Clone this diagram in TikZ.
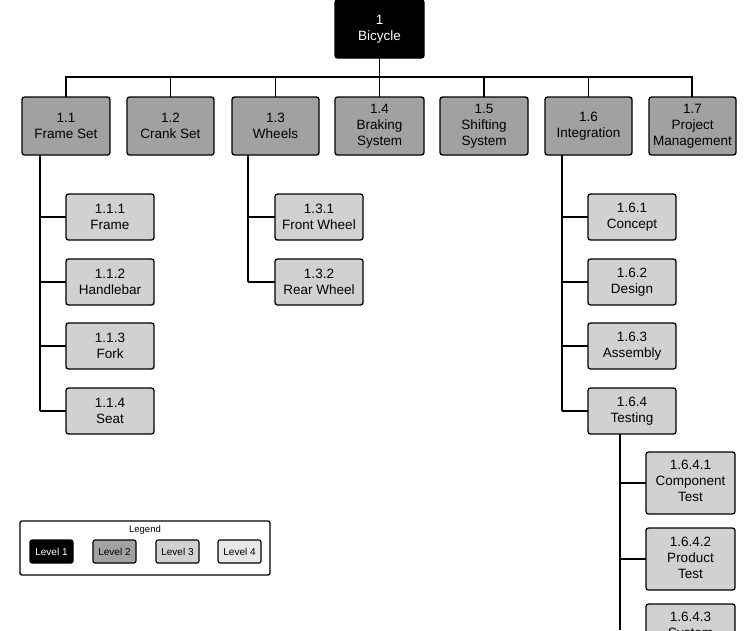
\documentclass[tikz,border=0pt]{standalone}
\usepackage{fontspec}
\setmainfont{Liberation Sans}
\begin{document}
\begin{tikzpicture}[x=1pt,y=-1pt,
  bx/.style={draw=black,line width=1.3pt,rounded corners=2.5pt},
  lbl/.style={align=center,font=\fontsize{13.5}{16}\selectfont,inner sep=0pt},
  ln/.style={line width=1.4pt}]
\useasboundingbox (0,0) rectangle (749,630);
\definecolor{lvtwo}{gray}{0.63}
\definecolor{lvthree}{gray}{0.82}
\definecolor{lvfour}{gray}{0.91}
% connectors
\draw[ln] (379.5,58) -- (379.5,77);
\draw[ln] (66,97) -- (66,77) -- (692,77) -- (692,97);
\foreach \x in {170.5,275.5,379.5,484,588.5} \draw[ln] (\x,77) -- (\x,97);
\draw[ln] (40,155) -- (40,411);
\foreach \y in {217,282,346,411} \draw[ln] (40,\y) -- (66,\y);
\draw[ln] (248,155) -- (248,282);
\foreach \y in {217,282} \draw[ln] (248,\y) -- (275,\y);
\draw[ln] (562,155) -- (562,411);
\foreach \y in {217,282,346,411} \draw[ln] (562,\y) -- (588,\y);
\draw[ln] (620,434) -- (620,630);
\foreach \y in {483,559} \draw[ln] (620,\y) -- (646,\y);
% level 1
\draw[bx,fill=black] (335,0) rectangle (424,58);
\node[lbl,text=white] (n1) at (379.5,29) {1\\Bicycle};
% level 2
\foreach \a/\b/\t [count=\i] in {22/110/{1.1\\Frame Set},127/214/{1.2\\Crank Set},232/319/{1.3\\Wheels},335/424/{1.4\\Braking\\System},440/528/{1.5\\Shifting\\System},545/632/{1.6\\Integration},649/736/{1.7\\Project\\Management}}{
  \draw[bx,fill=lvtwo] (\a,97) rectangle (\b,155);
  \node[lbl] (n1\i) at ({(\a+\b)/2},126) {\t};
}
% level 3
\foreach \y/\t [count=\i] in {194/{1.1.1\\Frame},259/{1.1.2\\Handlebar},323/{1.1.3\\Fork},388/{1.1.4\\Seat}}{
  \draw[bx,fill=lvthree] (66,\y) rectangle (154,\y+46);
  \node[lbl] (na\i) at (110,\y+23) {\t};
}
\foreach \y/\t [count=\i] in {194/{1.3.1\\Front Wheel},259/{1.3.2\\Rear Wheel}}{
  \draw[bx,fill=lvthree] (275,\y) rectangle (363,\y+46);
  \node[lbl] (nb\i) at (319,\y+23) {\t};
}
\foreach \y/\t [count=\i] in {194/{1.6.1\\Concept},259/{1.6.2\\Design},323/{1.6.3\\Assembly},388/{1.6.4\\Testing}}{
  \draw[bx,fill=lvthree] (588,\y) rectangle (676,\y+46);
  \node[lbl] (nc\i) at (632,\y+23) {\t};
}
% level 4
\draw[bx,fill=lvthree] (646,452) rectangle (735,514);
\begin{scope}
\clip (646,452) rectangle (735,503);
\node[lbl] (nd1) at (690.5,481) {1.6.4.1\\Component\\Test};
\end{scope}
\draw[bx,fill=lvthree] (646,528) rectangle (735,590);
\node[lbl] (nd2) at (690.5,558) {1.6.4.2\\Product\\Test};
\draw[bx,fill=lvthree] (646,604) rectangle (735,640);
\begin{scope}
\clip (646,604) rectangle (735,630);
\node[lbl] (nd3) at (690.5,633) {1.6.4.3\\System\\Test};
\end{scope}
% legend
\draw[line width=1.3pt,rounded corners=2pt] (20,521) rectangle (270,575);
\node[font=\fontsize{9.5}{10}\selectfont,inner sep=0pt] (lg) at (145,530) {Legend};
\foreach \a/\c/\tc/\t in {30/black/white/Level 1,93/lvtwo/black/Level 2,156/lvthree/black/Level 3,218/lvfour/black/Level 4}{
  \draw[line width=1.1pt,rounded corners=2pt,fill=\c] (\a,540) rectangle (\a+43,563);
  \node[font=\fontsize{10}{11}\selectfont,inner sep=0pt,text=\tc] at (\a+21.5,551.5) {\t};
}
\end{tikzpicture}
\end{document}
